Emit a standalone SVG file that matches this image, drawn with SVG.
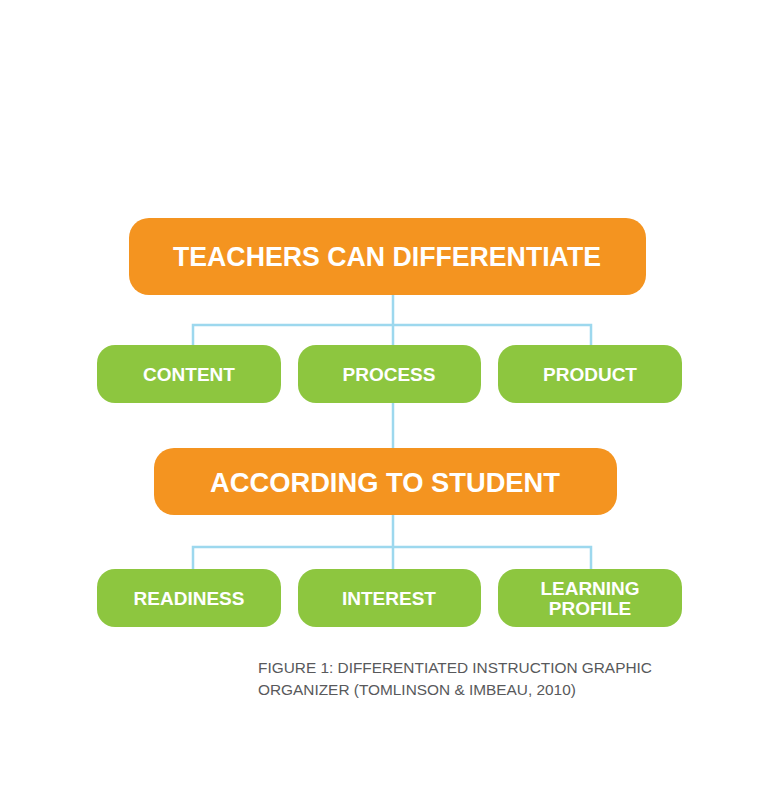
<svg xmlns="http://www.w3.org/2000/svg" width="768" height="810" viewBox="0 0 768 810">
<style>
.o{fill:#F49420}
.g{fill:#8DC63F}
.t{fill:#fff;font-family:"Liberation Sans",Arial,sans-serif;font-weight:bold;text-anchor:middle}
.big{font-size:27px}
.sm{font-size:19px}
.c{fill:none;stroke:#9DD8EE;stroke-width:2.5}
.cap{fill:#58595B;font-family:"Liberation Sans",Arial,sans-serif;font-size:15.4px}
</style>
<rect width="768" height="810" fill="#fff"/>
<g id="connectors">
<path class="c" d="M393 295V345M193 345V325H591V345"/>
<path class="c" d="M393 403V448"/>
<path class="c" d="M393 515V569M193 569V547H591V569"/>
</g>
<g id="teachers"><rect class="o" x="129" y="218" width="517" height="77" rx="20"/><text class="t big" x="387" y="266" textLength="428" lengthAdjust="spacingAndGlyphs">TEACHERS CAN DIFFERENTIATE</text></g>
<g id="content"><rect class="g" x="97" y="345" width="184" height="58" rx="18"/><text class="t sm" x="189" y="381">CONTENT</text></g>
<g id="process"><rect class="g" x="298" y="345" width="183" height="58" rx="18"/><text class="t sm" x="389" y="381">PROCESS</text></g>
<g id="product"><rect class="g" x="498" y="345" width="184" height="58" rx="18"/><text class="t sm" x="590" y="381">PRODUCT</text></g>
<g id="according"><rect class="o" x="154" y="448" width="463" height="67" rx="20"/><text class="t big" x="385" y="492" textLength="350" lengthAdjust="spacingAndGlyphs">ACCORDING TO STUDENT</text></g>
<g id="readiness"><rect class="g" x="97" y="569" width="184" height="58" rx="18"/><text class="t sm" x="189" y="605">READINESS</text></g>
<g id="interest"><rect class="g" x="298" y="569" width="183" height="58" rx="18"/><text class="t sm" x="389" y="605">INTEREST</text></g>
<g id="learning"><rect class="g" x="498" y="569" width="184" height="58" rx="18"/><text class="t sm" x="590" y="595">LEARNING</text><text class="t sm" x="590" y="615">PROFILE</text></g>
<g id="caption"><text class="cap" x="258" y="673">FIGURE 1: DIFFERENTIATED INSTRUCTION GRAPHIC</text><text class="cap" x="258" y="695">ORGANIZER (TOMLINSON &amp; IMBEAU, 2010)</text></g>
</svg>
